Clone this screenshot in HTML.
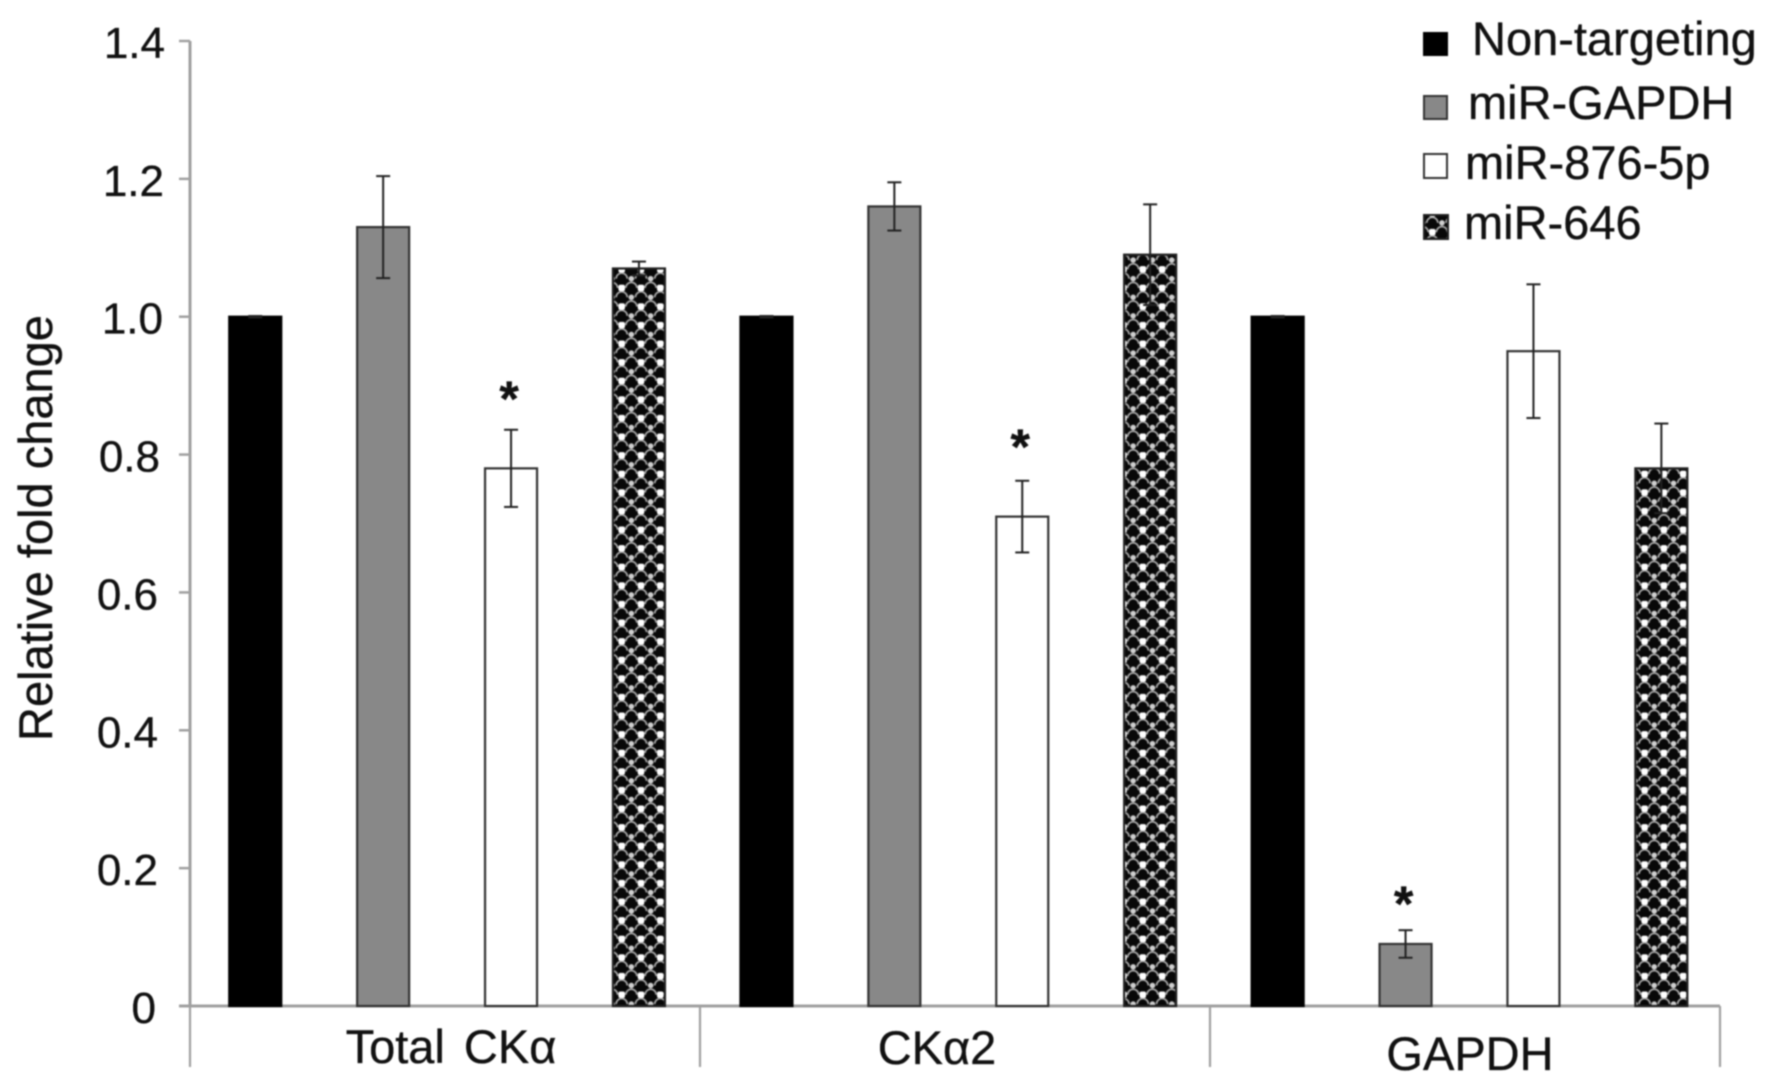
<!DOCTYPE html>
<html lang="en">
<head>
<meta charset="utf-8">
<title>Relative fold change chart</title>
<style>
html,body{margin:0;padding:0;background:#fff;width:1772px;height:1090px;overflow:hidden}
svg{display:block;filter:blur(0.8px)}
text{font-family:"Liberation Sans",sans-serif;fill:#111;stroke:#111;stroke-width:0.35px}
</style>
</head>
<body>
<svg id="chart" xmlns="http://www.w3.org/2000/svg" width="1772" height="1090" viewBox="0 0 1772 1090">
  <defs>
    <pattern id="dots" patternUnits="userSpaceOnUse" width="19.3" height="18.6" x="612.05" y="278.7">
      <rect width="19.3" height="18.6" fill="#080808"/>
      <g fill="none" stroke="#a8a8a8" stroke-width="1.7">
        <path d="M-5.6 9.3A5.6 5.6 0 0 1 5.6 9.3"/>
        <path d="M13.7 9.3A5.6 5.6 0 0 1 24.9 9.3"/>
        <path d="M4.05 0A5.6 5.6 0 0 1 15.25 0"/>
        <path d="M4.05 18.6A5.6 5.6 0 0 1 15.25 18.6"/>
      </g>
      <rect x="6.4" y="6" width="6.5" height="6.5" rx="2" fill="#fff"/>
      <g fill="#cfcfcf">
        <circle cx="0" cy="0" r="2.8"/>
        <circle cx="19.3" cy="0" r="2.8"/>
        <circle cx="0" cy="18.6" r="2.8"/>
        <circle cx="19.3" cy="18.6" r="2.8"/>
      </g>
    </pattern>
  </defs>
  <g id="axes"></g>
  <g id="bars"></g>
  <text id="ytitle" transform="translate(52,528) rotate(-90)" text-anchor="middle" font-size="47">Relative fold change</text>
  <g>
    <g>
      <rect x="1423" y="32" width="25" height="24" fill="#000"/>
      <text x="1472" y="55" font-size="47">Non-targeting</text>
    </g>
    <g>
      <rect x="1424" y="96" width="23" height="23" fill="#888" stroke="#333" stroke-width="2"/>
      <text x="1468" y="119" font-size="47">miR-GAPDH</text>
    </g>
    <g>
      <rect x="1424" y="154" width="23" height="24" fill="#fff" stroke="#333" stroke-width="2"/>
      <text x="1465" y="179" font-size="47">miR-876-5p</text>
    </g>
    <g>
      <rect x="1424" y="215" width="24" height="24" fill="url(#dots)" stroke="#222" stroke-width="2"/>
      <text x="1464" y="239" font-size="47">miR-646</text>
    </g>
  </g>
</svg>
<script>
const categories = ["Total CKα", "CKα2", "GAPDH"];
const seriesNames = ["Non-targeting", "miR-GAPDH", "miR-876-5p", "miR-646"];
const nonTargeting = [1.0, 1.0, 1.0];
const mirGapdh = [1.13, 1.16, 0.09];
const mir8765p = [0.78, 0.71, 0.95];
const mir646 = [1.07, 1.09, 0.78];
const nonTargetingErr = [0.001, 0.001, 0.001];
const mirGapdhErr = [0.074, 0.035, 0.02];
const mir8765pErr = [0.056, 0.052, 0.097];
const mir646Err = [0.01, 0.073, 0.065];
const significantGapdh = [false, false, true];
const significant8765p = [true, true, false];
const yTicks = [0, 0.2, 0.4, 0.6, 0.8, 1.0, 1.2, 1.4];
const yTickLabels = ["0", "0.2", "0.4", "0.6", "0.8", "1.0", "1.2", "1.4"];

const NS = "http://www.w3.org/2000/svg";
const axisLeft = 190, axisRight = 1720, yZero = 1006, yTop = 41, yMax = 1.4;
const barWidth = 52;
function yScale(v) { return yZero - (v / yMax) * (yZero - yTop); }
function groupWidth() { return (axisRight - axisLeft) / categories.length; }
function xBar(g, s) { return axisLeft + groupWidth() * (g + (s + 0.5) / seriesNames.length) + 1.5 + g * 1.2 + s * 0.4; }
function make(tag, parent, attrs) {
  const el = document.createElementNS(NS, tag);
  for (const k in attrs) el.setAttribute(k, attrs[k]);
  parent.appendChild(el);
  return el;
}
const axes = document.getElementById("axes");
const bars = document.getElementById("bars");
const axisColor = "#a0a0a0";

const yLine = make("line", axes, {x1: axisLeft, x2: axisLeft, y1: yTop, y2: yZero, stroke: axisColor, "stroke-width": 3});



yTicks.forEach(function (t, i) {
  const tick = make("line", axes, {x1: axisLeft - 11, x2: axisLeft, y1: yScale(t), y2: yScale(t), stroke: axisColor, "stroke-width": 2.5});
  
  
  const right = [156, 158, 158, 158, 160, 163, 164, 165][i];
  const label = make("text", axes, {x: right, y: yScale(t) + 17, "text-anchor": "end", "font-size": 44});
  label.textContent = yTickLabels[i];
  
  
});

categories.forEach(function (c, g) {
  const sep = make("line", axes, {x1: axisLeft + groupWidth() * g, x2: axisLeft + groupWidth() * g, y1: yZero, y2: 1067, stroke: axisColor, "stroke-width": 2.2});
  
  
  const nudgeX = [6, -18, 5][g];
  const baseY = [1063, 1064, 1070][g];
  const label = make("text", axes, {x: axisLeft + groupWidth() * (g + 0.5) + nudgeX, y: baseY, "text-anchor": "middle", "font-size": 47, "word-spacing": 6});
  label.textContent = c;
  
  
});
const endSep = make("line", axes, {x1: axisRight, x2: axisRight, y1: yZero, y2: 1067, stroke: axisColor, "stroke-width": 2.2});



function drawSeries(values, errors, s, fill, stroke, stars) {
  values.forEach(function (v, g) {
    const cx = xBar(g, s);
    const bar = make("rect", bars, {x: cx - barWidth / 2, y: yScale(v), width: barWidth, height: yZero - yScale(v), fill: fill, stroke: stroke, "stroke-width": 2.2});
    
    
    const e = errors[g];
    const top = yScale(v + e), low = yScale(v - e);
    const stem = make("line", bars, {x1: cx, x2: cx, y1: top, y2: low, stroke: "#222", "stroke-width": 2});
    
    
    [top, low].forEach(function (cy) {
      const cap = make("line", bars, {x1: cx - 7, x2: cx + 7, y1: cy, y2: cy, stroke: "#222", "stroke-width": 2});
      
      
    });
    if (stars && stars[g]) {
      const lift = [5, 8, 0][g];
      const star = make("text", bars, {x: cx - 2, y: top - 9 - lift, "text-anchor": "middle", "font-size": 50, "font-weight": "bold"});
      star.textContent = "*";
      
      
    }
  });
}
drawSeries(nonTargeting, nonTargetingErr, 0, "#000", "#000", null);
drawSeries(mirGapdh, mirGapdhErr, 1, "#888", "#333", significantGapdh);
drawSeries(mir8765p, mir8765pErr, 2, "#fff", "#333", significant8765p);
drawSeries(mir646, mir646Err, 3, "url(#dots)", "#222", null);

const xLine = make("line", axes, {x1: axisLeft - 11, x2: axisRight, y1: yZero, y2: yZero, stroke: axisColor, "stroke-width": 3});


</script>
</body>
</html>
